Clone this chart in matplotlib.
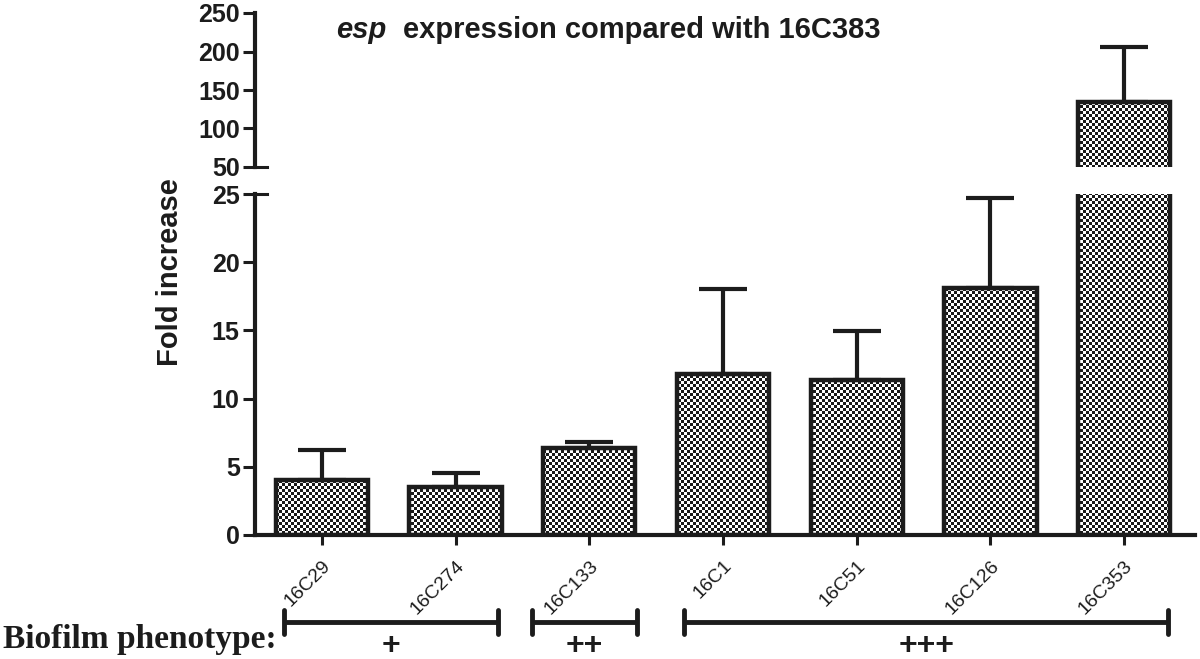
import numpy as np
import matplotlib
matplotlib.use('Agg')
import matplotlib.pyplot as plt
from matplotlib.transforms import blended_transform_factory, TransformedPatchPath

# ---- data ----
strains = ['16C29', '16C274', '16C133', '16C1', '16C51', '16C126', '16C353']
fold = [4.03, 3.5, 6.35, 11.78, 11.4, 18.08, 134.8]
err_up = [2.21, 1.07, 0.47, 6.25, 3.52, 6.6, 71.2]
lower_ticks = [0, 5, 10, 15, 20, 25]
upper_ticks = [50, 100, 150, 200, 250]
groups = ['+', '++', '+++']
group_spans = [(-0.28, 1.32), (1.57, 2.36), (2.71, 6.33)]

W, H = 1200, 659
INK = '#1c1c1c'
plt.rcParams['font.family'] = ['Liberation Sans', 'DejaVu Sans']
fig = plt.figure(figsize=(W / 100, H / 100), dpi=100)


def fx(px):
    return px / W


def fy(py):
    return 1 - py / H


ax = fig.add_axes([fx(255), fy(535), fx(1195) - fx(255), fy(194) - fy(535)])
axu = fig.add_axes([fx(255), fy(167), fx(1195) - fx(255), fy(13) - fy(167)])

# checkerboard texture (figure pixels)
yy, xx = np.mgrid[0:H, 0:W]
chk = ((yy // 3 + xx // 3) % 2)
tex = np.ones((H, W, 4))
tex[..., :3] = np.where(chk[..., None] == 1, 0.1, 1.0)

x = np.arange(len(strains))
for a, ylim, ticks in ((ax, (0, 25), lower_ticks), (axu, (50, 250), upper_ticks)):
    a.set_facecolor('none')
    bars = a.bar(x, fold, width=0.69, facecolor='none', edgecolor=INK,
                 linewidth=3.2, zorder=3)
    a.errorbar(x, fold, yerr=[np.zeros(len(err_up)), err_up], fmt='none',
               ecolor=INK, elinewidth=3, capsize=17, capthick=3, zorder=2)
    for b in bars:
        im = fig.figimage(tex, xo=0, yo=0, zorder=-1)
        im.set_clip_path(TransformedPatchPath(b))
        im.set_clip_box(a.bbox)
    a.set_xlim(-0.5, 6.53)
    a.set_ylim(*ylim)
    a.set_yticks(ticks)
    a.set_yticklabels([str(t) for t in ticks], fontsize=18, fontweight='bold')
    a.tick_params(axis='y', direction='out', length=9, width=2.2, pad=2,
                  color=INK, labelcolor=INK)
    for s in ('top', 'right'):
        a.spines[s].set_visible(False)
    a.spines['left'].set_linewidth(3)
    a.spines['left'].set_color(INK)

# upper axis: no bottom
axu.spines['bottom'].set_visible(False)
axu.set_xticks([])

ax.spines['bottom'].set_linewidth(3)
ax.spines['bottom'].set_color(INK)
ax.set_xticks(x)
ax.set_xticklabels(strains, rotation=45, ha='right', va='top',
                   rotation_mode='anchor', fontsize=14)
ax.tick_params(axis='x', direction='out', length=7.5, width=2.2, pad=8.5,
               color=INK, labelcolor=INK)

# break markers
ax.plot([0, 12 / 940], [1, 1], transform=ax.transAxes, clip_on=False,
        color=INK, lw=2.2)
axu.plot([0, 12 / 940], [0, 0], transform=axu.transAxes, clip_on=False,
         color=INK, lw=2.2)

# labels
fig.text(fx(170), fy(272), 'Fold increase', rotation=90, ha='center',
         va='center', fontsize=21, fontweight='bold', color=INK)
fig.text(fx(336), fy(30), 'esp', style='italic', fontweight='bold',
         fontsize=21, va='center', color=INK)
fig.text(fx(403), fy(30), 'expression compared with 16C383',
         fontweight='bold', fontsize=21, va='center', color=INK)
fig.text(fx(3), fy(648), 'Biofilm phenotype:', family=['Liberation Serif'],
         fontweight='bold', fontsize=24, va='baseline', color=INK)

# phenotype brackets
tr = blended_transform_factory(ax.transData, fig.transFigure)
for lab, (x0, x1) in zip(groups, group_spans):
    ax.plot([x0, x1], [fy(622)] * 2, transform=tr, clip_on=False,
            color=INK, lw=3.5, solid_capstyle='butt')
    for xe in (x0, x1):
        ax.plot([xe, xe], [fy(610), fy(634)], transform=tr, clip_on=False,
                color=INK, lw=3.5, solid_capstyle='round')
    ax.text((x0 + x1) / 2, fy(646), lab, transform=tr, ha='center',
            va='center', fontsize=23, fontweight='bold', color=INK)

fig.savefig('out.png', dpi=100)
